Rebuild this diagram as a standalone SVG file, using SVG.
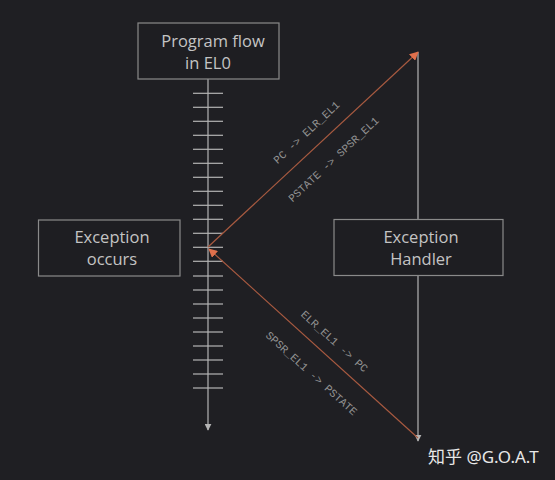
<svg xmlns="http://www.w3.org/2000/svg" width="555" height="480" viewBox="0 0 555 480">
<defs>
<style>
.box{fill:#1e1e22;stroke:#8a8a8a;stroke-width:1.2}
.lbl{font-family:"Open Sans","Noto Sans","Liberation Sans",sans-serif;font-size:16.5px;fill:#c4c4c4;text-anchor:middle}
.mono{font-family:"Liberation Mono","DejaVu Sans Mono",monospace;font-size:11px;fill:#929292;text-anchor:middle}
.axis{stroke:#b4b4b4;stroke-width:1.2;fill:none}
.tick{stroke:#b4b4b4;stroke-width:1.2}
.red{stroke:#a85a40;stroke-width:1.2;fill:none}
</style>
<marker id="ga" viewBox="0 0 10 10" refX="9" refY="5" markerWidth="7" markerHeight="7" orient="auto" markerUnits="userSpaceOnUse"><path d="M0,0 L10,5 L0,10 z" fill="#b4b4b4"/></marker>
<marker id="ra" viewBox="0 0 10 10" refX="9" refY="5" markerWidth="9" markerHeight="9" orient="auto" markerUnits="userSpaceOnUse"><path d="M0,0 L10,5 L0,10 z" fill="#e0704c"/></marker>
</defs>
<rect width="555" height="480" fill="#1f1f23"/>
<g id="connectors">
<line class="axis" x1="208" y1="79" x2="208" y2="430" marker-end="url(#ga)"/>
<g class="tick">
<line x1="193" y1="93.3" x2="223" y2="93.3"/>
<line x1="193" y1="107.3" x2="223" y2="107.3"/>
<line x1="193" y1="121.3" x2="223" y2="121.3"/>
<line x1="193" y1="135.3" x2="223" y2="135.3"/>
<line x1="193" y1="149.3" x2="223" y2="149.3"/>
<line x1="193" y1="163.3" x2="223" y2="163.3"/>
<line x1="193" y1="177.3" x2="223" y2="177.3"/>
<line x1="193" y1="191.3" x2="223" y2="191.3"/>
<line x1="193" y1="205.3" x2="223" y2="205.3"/>
<line x1="193" y1="219.3" x2="223" y2="219.3"/>
<line x1="193" y1="233.3" x2="223" y2="233.3"/>
<line x1="193" y1="247.3" x2="223" y2="247.3"/>
<line x1="193" y1="261.3" x2="223" y2="261.3"/>
<line x1="193" y1="276" x2="223" y2="276"/>
<line x1="193" y1="290" x2="223" y2="290"/>
<line x1="193" y1="304" x2="223" y2="304"/>
<line x1="193" y1="318" x2="223" y2="318"/>
<line x1="193" y1="332" x2="223" y2="332"/>
<line x1="193" y1="346" x2="223" y2="346"/>
<line x1="193" y1="360" x2="223" y2="360"/>
<line x1="193" y1="374" x2="223" y2="374"/>
<line x1="193" y1="388" x2="223" y2="388"/>
</g>
<line class="axis" x1="418" y1="52" x2="418" y2="441" marker-end="url(#ga)"/>
<line class="red" x1="208" y1="247" x2="418" y2="52" marker-end="url(#ra)"/>
<line class="red" x1="418" y1="438" x2="209" y2="249" marker-end="url(#ra)"/>
<text class="mono" transform="translate(309,135) rotate(-42.9)">PC -&gt; ELR_EL1</text>
<text class="mono" transform="translate(336,162) rotate(-42.9)">PSTATE -&gt; SPSR_EL1</text>
<text class="mono" transform="translate(332,344) rotate(42.1)">ELR_EL1 -&gt; PC</text>
<text class="mono" transform="translate(309,376) rotate(42.1)">SPSR_EL1 -&gt; PSTATE</text>
</g>
<g id="program-flow">
<rect class="box" x="138" y="23" width="141" height="56"/>
<text class="lbl" x="213" y="47">Program flow</text>
<text class="lbl" x="208" y="69">in EL0</text>
</g>
<g id="exception-occurs">
<rect class="box" x="38.5" y="220" width="141.5" height="56"/>
<text class="lbl" x="112" y="243">Exception</text>
<text class="lbl" x="112" y="265">occurs</text>
</g>
<g id="exception-handler">
<rect class="box" x="334" y="219.5" width="169" height="56"/>
<text class="lbl" x="421" y="243">Exception</text>
<text class="lbl" x="421" y="265">Handler</text>
</g>
<text x="428" y="463" font-family="'Noto Sans','Noto Sans CJK SC',sans-serif" font-size="17" fill="#e8e8e8">知乎 @G.O.A.T</text>
</svg>
